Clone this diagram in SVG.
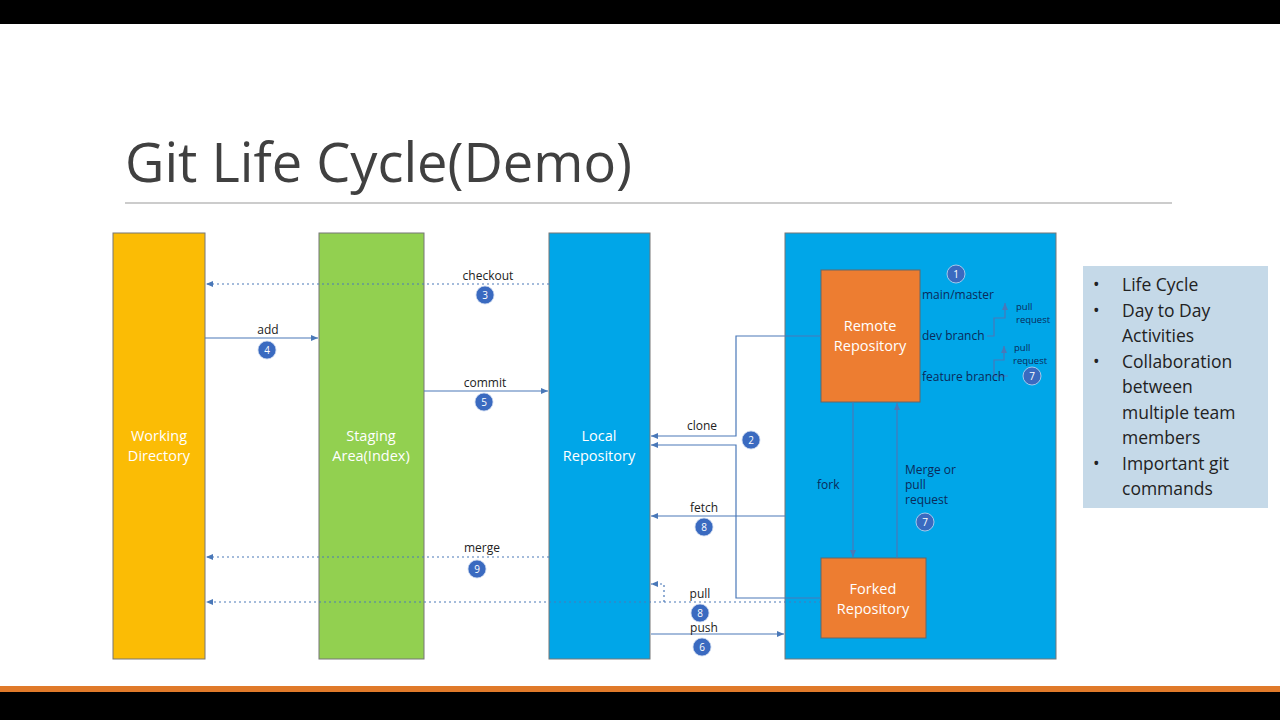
<svg xmlns="http://www.w3.org/2000/svg" width="1280" height="720" viewBox="0 0 1280 720">
<defs>
<style>
text{font-family:"Open Sans","Liberation Sans",sans-serif}
.lbl{font-size:12px;fill:#222}
.w{font-size:14.5px;fill:#fff}
.ln{stroke:#4a78b8;stroke-width:1.2;fill:none}
.dot{stroke:#4a78b8;stroke-width:1.2;fill:none;stroke-dasharray:2 3}
.badge{fill:#3a6ac0;stroke:#c8d6ee;stroke-width:0.8}
.bt{font-size:10px;fill:#fff;text-anchor:middle}
.dk{font-size:12px;fill:#0b2a5a}
</style>
<marker id="a" markerWidth="8" markerHeight="8" refX="7" refY="4" orient="auto" markerUnits="userSpaceOnUse"><path d="M0,1 L7,4 L0,7z" fill="#4a78b8"/></marker>
</defs>
<rect width="1280" height="720" fill="#fff"/>
<rect width="1280" height="24" fill="#000"/>
<rect y="686" width="1280" height="6" fill="#e07a2a"/>
<rect y="692" width="1280" height="28" fill="#000"/>
<text x="125" y="182" font-size="54" fill="#404040" textLength="507" lengthAdjust="spacingAndGlyphs">Git Life Cycle(Demo)</text>
<line x1="125" y1="203" x2="1172" y2="203" stroke="#ccc" stroke-width="2"/>
<g id="working"><rect x="113" y="233" width="92" height="426" fill="#fbbc05" stroke="#777"/><text class="w" x="159" y="441" text-anchor="middle">Working</text><text class="w" x="159" y="461" text-anchor="middle">Directory</text></g>
<g id="staging"><rect x="319" y="233" width="105" height="426" fill="#92d050" stroke="#777"/><text class="w" x="371" y="441" text-anchor="middle">Staging</text><text class="w" x="371" y="461" text-anchor="middle">Area(Index)</text></g>
<g id="local"><rect x="549" y="233" width="101" height="426" fill="#00a6e8" stroke="#777"/><text class="w" x="599" y="441" text-anchor="middle">Local</text><text class="w" x="599" y="461" text-anchor="middle">Repository</text></g>
<g id="remote-area"><rect x="785" y="233" width="271" height="426" fill="#00a6e8" stroke="#777"/></g>
<g id="remote"><rect x="821" y="270" width="99" height="132" fill="#ed7d31" stroke="#666"/><text class="w" x="870" y="331" text-anchor="middle">Remote</text><text class="w" x="870" y="351" text-anchor="middle">Repository</text></g>
<g id="forked"><rect x="821" y="558" width="105" height="80" fill="#ed7d31" stroke="#666"/><text class="w" x="873" y="594" text-anchor="middle">Forked</text><text class="w" x="873" y="614" text-anchor="middle">Repository</text></g>
<g id="sidebar"><rect x="1083" y="266" width="185" height="242" fill="#c5d9e8"/>
<g font-size="17.5" fill="#222"><text x="1093" y="291">•</text><text x="1122" y="291">Life Cycle</text><text x="1093" y="317">•</text><text x="1122" y="317">Day to Day</text><text x="1122" y="342">Activities</text><text x="1093" y="368">•</text><text x="1122" y="368">Collaboration</text><text x="1122" y="393">between</text><text x="1122" y="419">multiple team</text><text x="1122" y="444">members</text><text x="1093" y="470">•</text><text x="1122" y="470">Important git</text><text x="1122" y="495">commands</text></g></g>
<g id="connectors">
<path class="dot" d="M549,284 H206" marker-end="url(#a)"/>
<path class="ln" d="M205,338 H318" marker-end="url(#a)"/>
<path class="ln" d="M424,391 H548" marker-end="url(#a)"/>
<path class="ln" d="M821,336 H736 V436 H651" marker-end="url(#a)"/>
<path class="ln" d="M821,598 H736 V445 H651" marker-end="url(#a)"/>
<path class="ln" d="M785,516 H651" marker-end="url(#a)"/>
<path class="dot" d="M549,557 H206" marker-end="url(#a)"/>
<path class="dot" d="M821,602 H206" marker-end="url(#a)"/>
<path class="dot" d="M664,602 V584 H651" marker-end="url(#a)"/>
<path class="ln" d="M651,634 H784" marker-end="url(#a)"/>
<path class="ln" d="M853,402 V557" marker-end="url(#a)"/>
<path class="ln" d="M897,558 V403" marker-end="url(#a)"/>
<path class="ln" d="M987,336 H994 V318 H1005 V303" marker-end="url(#a)"/>
<path class="ln" d="M1008,376 H994 V360 H1004 V346" marker-end="url(#a)"/>
</g>
<g id="labels">
<text class="lbl" x="488" y="280" text-anchor="middle">checkout</text>
<text class="lbl" x="268" y="334" text-anchor="middle">add</text>
<text class="lbl" x="485" y="387" text-anchor="middle">commit</text>
<text class="lbl" x="702" y="430" text-anchor="middle">clone</text>
<text class="lbl" x="704" y="512" text-anchor="middle">fetch</text>
<text class="lbl" x="482" y="552" text-anchor="middle">merge</text>
<text class="lbl" x="700" y="598" text-anchor="middle">pull</text>
<text class="lbl" x="704" y="632" text-anchor="middle">push</text>
<text class="dk" x="817" y="489">fork</text>
<text class="dk" x="905" y="474">Merge or</text><text class="dk" x="905" y="489">pull</text><text class="dk" x="905" y="504">request</text>
<text class="dk" x="922" y="299">main/master</text>
<text class="dk" x="922" y="340">dev branch</text>
<text class="dk" x="922" y="381">feature branch</text>
<g font-size="9.5" fill="#0b2a5a"><text x="1016" y="310">pull</text><text x="1016" y="323">request</text><text x="1014" y="351">pull</text><text x="1013" y="364">request</text></g>
</g>
<g id="badges">
<circle class="badge" cx="485" cy="295" r="9"/><text class="bt" x="485" y="299">3</text>
<circle class="badge" cx="267" cy="350" r="9"/><text class="bt" x="267" y="354">4</text>
<circle class="badge" cx="484" cy="402" r="9"/><text class="bt" x="484" y="406">5</text>
<circle class="badge" cx="751" cy="440" r="9"/><text class="bt" x="751" y="444">2</text>
<circle class="badge" cx="704" cy="527" r="9"/><text class="bt" x="704" y="531">8</text>
<circle class="badge" cx="477" cy="569" r="9"/><text class="bt" x="477" y="573">9</text>
<circle class="badge" cx="700" cy="613" r="9"/><text class="bt" x="700" y="617">8</text>
<circle class="badge" cx="702" cy="647" r="9"/><text class="bt" x="702" y="651">6</text>
<circle class="badge" cx="956" cy="274" r="9"/><text class="bt" x="956" y="278">1</text>
<circle class="badge" cx="1032" cy="376" r="9"/><text class="bt" x="1032" y="380">7</text>
<circle class="badge" cx="925" cy="522" r="9"/><text class="bt" x="925" y="526">7</text>
</g>
</svg>
